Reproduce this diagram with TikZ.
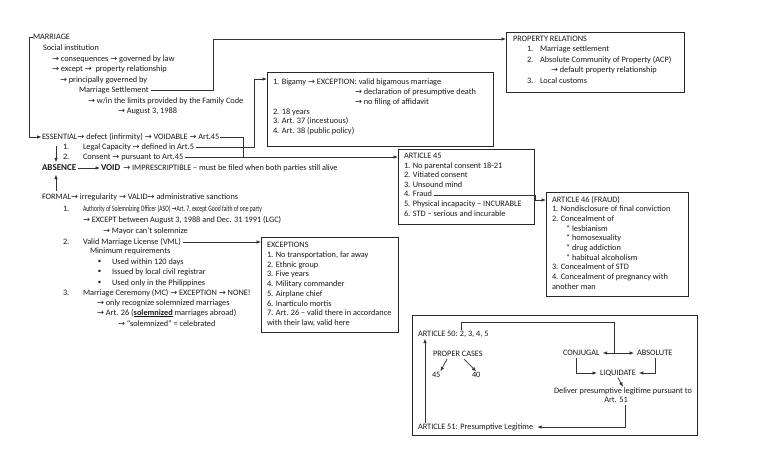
\documentclass[tikz,border=0pt]{standalone}
\usepackage{fontspec}
\usepackage{graphicx}
\setmainfont{Carlito}
\newfontfamily\dejavu{DejaVu Sans}
\usetikzlibrary{arrows.meta}
\newcommand\myarr{{\dejavu →}}
\newcommand\fs{\fontsize{8.3}{10}\selectfont}
\newcommand\bfs{\fontsize{9}{10}\selectfont\bfseries}
\tikzset{
  txt/.style={anchor=west, inner sep=0pt, outer sep=0pt, font=\fs, text height=5.6pt, text depth=1.6pt, text=black!90},
  ctxt/.style={txt, anchor=center},
  btxt/.style={txt, font=\bfs},
  box/.style={draw=black!85, line width=1.1pt, inner sep=0pt, anchor=north west},
  conn/.style={draw=black!80, line width=0.75pt},
  arr/.style={conn, -{Latex[length=4.5pt,width=3.6pt]}},
  darr/.style={conn, {Latex[length=4.5pt,width=3.6pt]}-{Latex[length=4.5pt,width=3.6pt]}},
}
\begin{document}
\begin{tikzpicture}[x=1pt,y=-1pt]
\fill[white] (0,0) rectangle (768,466);
\useasboundingbox (0,0) rectangle (768,466);

% ---------- left column ----------
\node[txt] (m1) at (33,37) {MARRIAGE};
\node[txt] (m2) at (43,48) {Social institution};
\node[txt] (m3) at (52,59) {\myarr{} consequences \myarr{} governed by law};
\node[txt] (m4) at (52,69) {\myarr{} except \myarr{}\ \ property relationship};
\node[txt] (m5) at (60,80) {\myarr{} principally governed by};
\node[txt] (m6) at (79,90) {Marriage Settlement};
\node[txt] (m7) at (88,101) {\myarr{} w/in the limits provided by the Family Code};
\node[txt] (m8) at (118,111) {\myarr{} August 3, 1988};

\node[txt] (ess) at (42,137) {ESSENTIAL\myarr{} defect (infirmity) \myarr{} VOIDABLE \myarr{} Art.45};
\node[txt] (e1n) at (63,147) {1.};
\node[txt] (e1) at (83,147) {Legal Capacity \myarr{} defined in Art.5};
\node[txt] (e2n) at (63,157) {2.};
\node[txt] (e2) at (83,157) {Consent \myarr{} pursuant to Art.45};
\node[btxt] (abs) at (42,168) {ABSENCE};
\node[btxt] (void) at (101,168) {VOID};
\node[txt] (voidt) at ([xshift=3pt]void.east) {\myarr{} IMPRESCRIPTIBLE -- must be filed when both parties still alive};

\node[txt] (formal) at (42,197) {FORMAL\myarr{} irregularity \myarr{} VALID\myarr{} administrative sanctions};
\node[txt] (f1n) at (63,209) {1.};
\node[txt] (f1) at (83,209) {\scalebox{0.68}[1]{Authority of Solemnizing Officer (ASO) \myarr{}Art.~7, except Good faith of one party}};
\node[txt] (f1a) at (83,220) {\myarr{} EXCEPT between August 3, 1988 and Dec. 31 1991 (LGC)};
\node[txt] (f1b) at (103,231) {\myarr{} Mayor can't solemnize};
\node[txt] (f2n) at (63,242) {2.};
\node[txt] (f2) at (83,242) {Valid Marriage License (VML)};
\node[txt] (f2a) at (90,251) {Minimum requirements};
\node[txt] (b1d) at (97,262) {{\dejavu •}};
\node[txt] (b1) at (112,262) {Used within 120 days};
\node[txt] (b2d) at (97,272.5) {{\dejavu •}};
\node[txt] (b2) at (112,272.5) {Issued by local civil registrar};
\node[txt] (b3d) at (97,283) {{\dejavu •}};
\node[txt] (b3) at (112,283) {Used only in the Philippines};
\node[txt] (f3n) at (63,293) {3.};
\node[txt] (f3) at (83,293) {Marriage Ceremony (MC) \myarr{} EXCEPTION \myarr{} NONE!};
\node[txt] (f3a) at (97,303) {\myarr{} only recognize solemnized marriages};
\node[txt] (f3b) at (97,313) {\myarr{} Art. 26 (\underline{\textbf{solemnized}} marriages abroad)};
\node[txt] (f3c) at (118,324) {\myarr{} “solemnized” = celebrated};

% ---------- boxes ----------
\node[box, minimum width=178pt, minimum height=60pt] (pr) at (506,32) {};
\node[txt] (prh) at (513,39) {PROPERTY RELATIONS};
\node[txt] (pr1n) at (527,49.5) {1.};
\node[txt] (pr1) at (540,49.5) {Marriage settlement};
\node[txt] (pr2n) at (527,60) {2.};
\node[txt] (pr2) at (540,60) {Absolute Community of Property (ACP)};
\node[txt] (pr2a) at (551,70.5) {\myarr{} default property relationship};
\node[txt] (pr3n) at (527,81) {3.};
\node[txt] (pr3) at (540,81) {Local customs};

\node[box, minimum width=226pt, minimum height=74pt] (big) at (267,72) {};
\node[txt] (bg1) at (273,82) {1. Bigamy \myarr{} EXCEPTION: valid bigamous marriage};
\node[txt] (bg1a) at (355,92) {\myarr{} declaration of presumptive death};
\node[txt] (bg1b) at (355,102) {\myarr{} no filing of affidavit};
\node[txt] (bg2) at (273,112) {2. 18 years};
\node[txt] (bg3) at (273,121.5) {3. Art. 37 (incestuous)};
\node[txt] (bg4) at (273,131) {4. Art. 38 (public policy)};

\node[box, minimum width=136pt, minimum height=75pt] (a45) at (398,149) {};
\node[txt] (a45h) at (404,156.5) {ARTICLE 45};
\node[txt] (a451) at (404,166.1) {1. No parental consent 18-21};
\node[txt] (a452) at (404,175.7) {2. Vitiated consent};
\node[txt] (a453) at (404,185.3) {3. Unsound mind};
\node[txt] (a454) at (404,194.9) {4. Fraud};
\node[txt] (a455) at (404,204.5) {5. Physical incapacity -- INCURABLE};
\node[txt] (a456) at (404,214.1) {6. STD -- serious and incurable};

\node[box, minimum width=142pt, minimum height=104pt] (a46) at (546,192) {};
\node[txt] (a46h) at (552,200) {ARTICLE 46 (FRAUD)};
\node[txt] (a461) at (552,209.7) {1. Nondisclosure of final conviction};
\node[txt] (a462) at (552,219.4) {2. Concealment of};
\node[txt] (a462a) at (566,229.1) {* lesbianism};
\node[txt] (a462b) at (566,238.8) {* homosexuality};
\node[txt] (a462c) at (566,248.5) {* drug addiction};
\node[txt] (a462d) at (566,258.2) {* habitual alcoholism};
\node[txt] (a463) at (552,267.9) {3. Concealment of STD};
\node[txt] (a464) at (552,277.6) {4. Concealment of pregnancy with};
\node[txt] (a464b) at (552,287.3) {another man};

\node[box, minimum width=137pt, minimum height=95pt] (exc) at (261,237) {};
\node[txt] (exh) at (267,245.5) {EXCEPTIONS};
\node[txt] (ex1) at (267,255.25) {1. No transportation, far away};
\node[txt] (ex2) at (267,265) {2. Ethnic group};
\node[txt] (ex3) at (267,274.75) {3. Five years};
\node[txt] (ex4) at (267,284.5) {4. Military commander};
\node[txt] (ex5) at (267,294.25) {5. Airplane chief};
\node[txt] (ex6) at (267,304) {6. Inarticulo mortis};
\node[txt] (ex7) at (267,313.75) {7. Art. 26 -- valid there in accordance};
\node[txt] (ex7b) at (267,323.5) {with their law, valid here};

\node[box, minimum width=285pt, minimum height=120pt] (a50) at (412,315) {};
\node[txt] (a50h) at (418,334) {ARTICLE 50:};
\node[txt] (a50n) at ([xshift=2pt]a50h.east) {2, 3, 4, 5};
\node[txt] (pc) at (433,354) {PROPER CASES};
\node[txt] (n45) at (432,375) {45};
\node[txt] (n40) at (472,375) {40};
\node[txt] (conj) at (563,353) {CONJUGAL};
\node[txt] (absl) at (637,353) {ABSOLUTE};
\node[txt] (liq) at (600,373) {LIQUIDATE};
\node[ctxt] (dl) at (623,391) {Deliver presumptive legitime pursuant to};
\node[ctxt] (dl2) at (616,400) {Art. 51};
\node[txt] (a51) at (418,427) {ARTICLE 51: Presumptive Legitime};

% ---------- connectors ----------
\coordinate (c1) at (213,39);
\coordinate (c2) at (243,157);
\coordinate (c3) at (254,79);
\coordinate (dA) at (56,146);
\coordinate (uA) at (56,191);
\coordinate (c5) at (614,322);
\coordinate (v1) at (425,423);

\draw[arr] (m1.west) -- ++(-4,0) |- ([xshift=-0.5pt]ess.west);
\draw[arr] ([xshift=2pt]m6.east) -| (c1) -- (pr.west |- c1);
\draw[conn] ([xshift=1pt]ess.east) -| (c2);
\draw[arr] ([xshift=2pt]e1.east) -| (c3) -- (big.west |- c3);
\draw[arr] ([xshift=2pt]e2.east) -- (a45.west |- e2.east);
\draw[arr] (dA) -- ([yshift=2pt]dA |- abs.north);
\draw[arr] (uA) -- ([yshift=-3pt]uA |- abs.south);
\draw[arr] ([xshift=2pt]abs.east) -- ([xshift=-1pt]void.west);
\draw[arr] ([xshift=2pt]f2.east) -- (exc.west |- f2.east);
\draw[arr] ([xshift=2pt]a454.east) -- (a45.east |- a454.east) -- (a45.east |- a46h.west) -- (a46.west |- a46h.west);

\draw[conn] ([xshift=1.5pt,yshift=0.5pt]a50n.north west) |- (c5) -- (c5 |- conj.east);
\draw[darr] ([xshift=3pt]conj.east) -- ([xshift=-3pt]absl.west);
\draw[arr] ([xshift=13pt,yshift=-1pt]conj.south west) |- ([xshift=-3pt]liq.west);
\draw[arr] ([xshift=18pt,yshift=-1pt]absl.south west) |- ([xshift=3pt]liq.east);
\draw[arr] ([yshift=-1pt]liq.south) -- ([yshift=0.5pt]dl.north);
\draw[arr] ([xshift=14pt,yshift=-1.5pt]pc.south west) -- (n45.north east);
\draw[arr] ([xshift=31pt,yshift=-1.5pt]pc.south west) -- (n40.north);
\draw[arr] ([xshift=-2pt,yshift=-1pt]dl2.south east) |- ([xshift=4pt]a51.east);
\draw[arr] (v1) -- ([yshift=-1pt]v1 |- a50h.south);
\end{tikzpicture}
\end{document}
